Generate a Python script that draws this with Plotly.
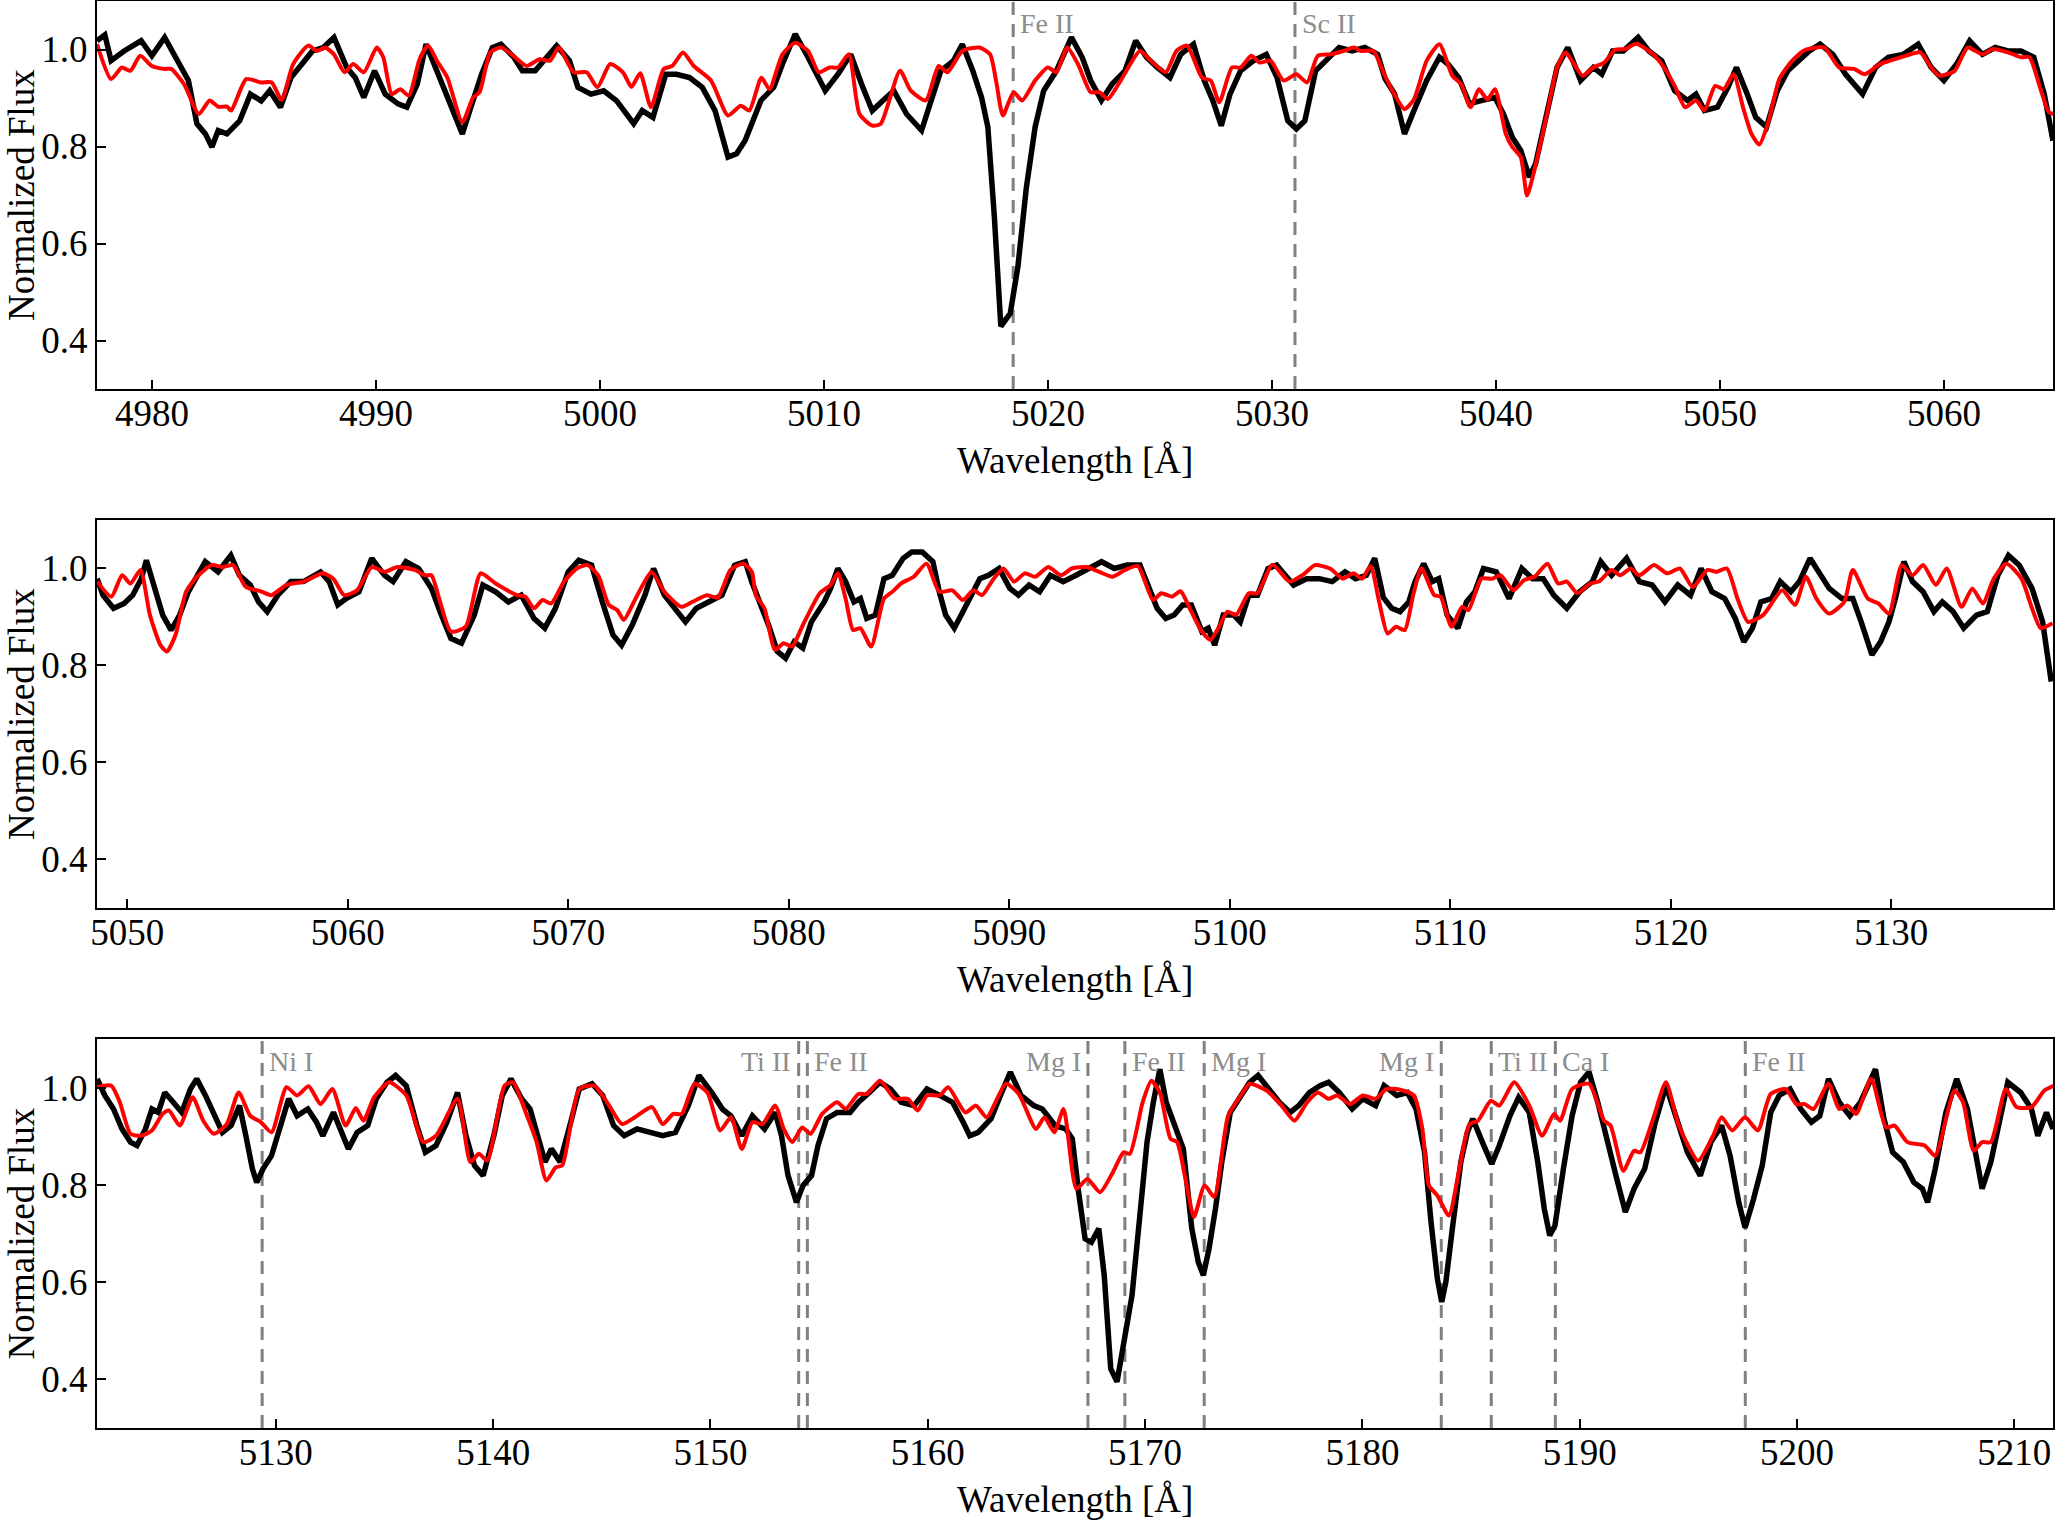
import plotly.graph_objects as go

# ---- panel 1 : 4977 - 5065 A ----
wave_obs_1 = [4977.55, 4977.90, 4978.18, 4978.76, 4979.52, 4980.00, 4980.57, 4981.24, 4981.63, 4982.01,
              4982.39, 4982.68, 4982.96, 4983.35, 4983.92, 4984.40, 4984.88, 4985.26, 4985.74, 4986.21,
              4986.79, 4987.17, 4987.65, 4988.13, 4988.70, 4989.08, 4989.46, 4989.94, 4990.42, 4990.99,
              4991.38, 4991.85, 4992.24, 4992.72, 4993.29, 4993.86, 4994.24, 4994.72, 4995.20, 4995.58,
              4996.16, 4996.54, 4997.11, 4997.50, 4998.07, 4998.64, 4999.02, 4999.60, 5000.17, 5000.75,
              5001.51, 5001.89, 5002.37, 5002.94, 5003.42, 5004.00, 5004.57, 5005.14, 5005.72, 5006.10,
              5006.48, 5007.19, 5007.76, 5008.15, 5008.72, 5009.29, 5010.06, 5010.63, 5011.20, 5011.68,
              5012.16, 5012.64, 5013.12, 5013.69, 5014.36, 5014.74, 5015.22, 5015.79, 5016.18, 5016.65,
              5017.04, 5017.32, 5017.61, 5017.90, 5018.13, 5018.32, 5018.66, 5019.04, 5019.43, 5019.81,
              5020.38, 5021.05, 5021.53, 5021.91, 5022.39, 5022.87, 5023.44, 5023.92, 5024.40, 5024.88,
              5025.45, 5025.93, 5026.50, 5026.98, 5027.36, 5027.74, 5028.13, 5028.60, 5029.18, 5029.75,
              5030.23, 5030.71, 5031.09, 5031.47, 5031.95, 5032.52, 5033.00, 5033.58, 5034.15, 5034.72,
              5035.05, 5035.48, 5035.92, 5036.34, 5036.91, 5037.48, 5037.86, 5038.34, 5038.82, 5039.39,
              5039.96, 5040.34, 5040.73, 5041.11, 5041.49, 5041.77, 5042.25, 5042.73, 5043.21, 5043.78,
              5044.35, 5044.73, 5045.21, 5045.69, 5046.35, 5046.83, 5047.40, 5047.98, 5048.55, 5048.93,
              5049.31, 5049.89, 5050.36, 5050.74, 5051.22, 5051.60, 5052.08, 5052.56, 5053.03, 5053.51,
              5053.99, 5054.47, 5055.04, 5055.61, 5055.99, 5056.37, 5056.95, 5057.52, 5058.19, 5058.85,
              5059.43, 5060.00, 5060.57, 5061.15, 5061.72, 5062.29, 5062.86, 5063.44, 5064.01, 5064.48,
              5064.87]
flux_obs_1 = [1.018, 1.030, 0.977, 0.997, 1.018, 0.987, 1.025, 0.970, 0.936, 0.847,
              0.826, 0.799, 0.833, 0.826, 0.853, 0.908, 0.894, 0.915, 0.881, 0.942,
              0.977, 0.997, 1.004, 1.025, 0.963, 0.942, 0.901, 0.956, 0.908, 0.888,
              0.881, 0.929, 1.011, 0.956, 0.894, 0.826, 0.881, 0.949, 1.004, 1.011,
              0.984, 0.956, 0.956, 0.977, 1.008, 0.977, 0.922, 0.908, 0.915, 0.894,
              0.847, 0.874, 0.860, 0.949, 0.949, 0.942, 0.922, 0.874, 0.778, 0.785,
              0.812, 0.895, 0.922, 0.970, 1.032, 0.984, 0.915, 0.949, 0.990, 0.929,
              0.874, 0.895, 0.915, 0.867, 0.833, 0.888, 0.956, 0.977, 1.011, 0.956,
              0.901, 0.840, 0.655, 0.429, 0.443, 0.456, 0.552, 0.716, 0.840, 0.915,
              0.956, 1.025, 0.984, 0.936, 0.895, 0.929, 0.956, 1.018, 0.984, 0.963,
              0.942, 0.990, 1.011, 0.936, 0.895, 0.843, 0.908, 0.956, 0.977, 0.990,
              0.942, 0.853, 0.836, 0.853, 0.956, 0.984, 1.004, 0.997, 1.004, 0.990,
              0.940, 0.908, 0.826, 0.874, 0.936, 0.984, 0.970, 0.942, 0.888, 0.895,
              0.901, 0.867, 0.819, 0.792, 0.737, 0.764, 0.867, 0.963, 1.004, 0.936,
              0.963, 0.949, 0.997, 0.997, 1.025, 0.997, 0.977, 0.915, 0.895, 0.908,
              0.874, 0.881, 0.922, 0.963, 0.908, 0.860, 0.840, 0.915, 0.956, 0.977,
              0.997, 1.011, 0.990, 0.949, 0.929, 0.908, 0.963, 0.984, 0.990, 1.011,
              0.963, 0.936, 0.970, 1.018, 0.990, 1.004, 0.997, 0.997, 0.984, 0.908,
              0.812]
wave_mod_1 = [4977.55, 4978.18, 4978.66, 4979.04, 4979.48, 4980.00, 4980.57, 4980.86, 4981.43, 4982.10,
              4982.58, 4982.96, 4983.35, 4983.54, 4984.21, 4984.88, 4985.35, 4985.79, 4986.31, 4986.98,
              4987.36, 4987.74, 4988.13, 4988.60, 4988.99, 4989.46, 4990.04, 4990.33, 4990.71, 4991.09,
              4991.47, 4991.95, 4992.33, 4992.72, 4993.19, 4993.86, 4994.34, 4994.63, 4995.11, 4995.58,
              4996.06, 4996.73, 4997.30, 4997.78, 4998.16, 4998.83, 4999.41, 4999.89, 5000.46, 5001.03,
              5001.41, 5001.80, 5002.28, 5002.85, 5003.23, 5003.71, 5004.19, 5004.96, 5005.72, 5006.29,
              5006.67, 5007.21, 5007.57, 5008.15, 5008.72, 5009.29, 5009.77, 5010.25, 5010.63, 5011.11,
              5011.59, 5012.16, 5012.54, 5013.40, 5013.88, 5014.55, 5015.12, 5015.51, 5016.18, 5016.94,
              5017.42, 5017.71, 5017.99, 5018.47, 5018.85, 5019.43, 5020.00, 5020.38, 5020.86, 5021.34,
              5021.91, 5022.29, 5022.68, 5023.25, 5024.11, 5024.59, 5025.26, 5025.74, 5026.21, 5026.88,
              5027.27, 5027.65, 5028.22, 5028.60, 5029.08, 5029.46, 5029.94, 5030.52, 5031.09, 5031.57,
              5032.05, 5032.62, 5033.19, 5033.67, 5033.96, 5034.53, 5035.01, 5035.38, 5035.92, 5036.34,
              5036.91, 5037.48, 5038.05, 5038.44, 5038.87, 5039.24, 5039.62, 5039.96, 5040.44, 5040.73,
              5041.11, 5041.39, 5041.68, 5042.25, 5042.73, 5043.11, 5043.49, 5043.87, 5044.35, 5044.83,
              5045.31, 5045.78, 5046.26, 5047.02, 5047.50, 5047.98, 5048.45, 5048.93, 5049.31, 5049.79,
              5050.17, 5050.61, 5051.03, 5051.41, 5051.76, 5052.18, 5052.65, 5053.23, 5053.80, 5054.66,
              5055.32, 5055.99, 5056.47, 5057.14, 5057.61, 5058.28, 5058.95, 5059.43, 5059.81, 5060.48,
              5061.05, 5061.72, 5062.19, 5062.86, 5063.44, 5063.82, 5064.29, 5064.68, 5064.92]
flux_mod_1 = [1.011, 0.939, 0.963, 0.956, 0.987, 0.966, 0.960, 0.960, 0.929, 0.867,
              0.895, 0.882, 0.882, 0.874, 0.939, 0.932, 0.932, 0.896, 0.970, 1.008,
              0.997, 1.004, 0.990, 0.953, 0.970, 0.953, 1.004, 0.984, 0.908, 0.918,
              0.905, 0.980, 1.008, 0.977, 0.942, 0.850, 0.901, 0.912, 0.994, 1.004,
              0.990, 0.966, 0.980, 0.977, 1.004, 0.953, 0.953, 0.922, 0.970, 0.953,
              0.923, 0.951, 0.881, 0.960, 0.966, 0.994, 0.966, 0.936, 0.864, 0.884,
              0.874, 0.942, 0.918, 0.990, 1.014, 0.997, 0.953, 0.963, 0.963, 0.990,
              0.867, 0.843, 0.847, 0.956, 0.915, 0.895, 0.966, 0.953, 0.997, 1.004,
              0.990, 0.929, 0.864, 0.912, 0.895, 0.936, 0.963, 0.953, 1.004, 0.970,
              0.912, 0.912, 0.898, 0.936, 0.997, 0.977, 0.953, 0.997, 1.008, 0.942,
              0.936, 0.891, 0.963, 0.963, 0.987, 0.973, 0.977, 0.936, 0.949, 0.932,
              0.987, 0.990, 0.997, 1.004, 0.997, 0.997, 0.949, 0.915, 0.877, 0.897,
              0.977, 1.011, 0.946, 0.929, 0.881, 0.918, 0.897, 0.918, 0.826, 0.799,
              0.778, 0.699, 0.744, 0.860, 0.963, 0.994, 0.970, 0.946, 0.963, 0.973,
              0.999, 1.001, 1.012, 0.990, 0.963, 0.925, 0.881, 0.895, 0.874, 0.925,
              0.918, 0.949, 0.881, 0.826, 0.804, 0.853, 0.939, 0.977, 0.999, 1.004,
              0.963, 0.960, 0.949, 0.970, 0.977, 0.987, 0.994, 0.963, 0.946, 0.956,
              1.004, 0.990, 1.001, 0.994, 0.984, 0.984, 0.922, 0.871, 0.867]

# ---- panel 2 : 5048 - 5137 A ----
wave_obs_2 = [5048.64, 5048.90, 5049.38, 5049.86, 5050.25, 5050.64, 5050.87, 5051.22, 5051.61, 5051.99,
              5052.38, 5052.77, 5053.16, 5053.54, 5054.12, 5054.70, 5055.09, 5055.58, 5055.96, 5056.35,
              5056.83, 5057.42, 5058.00, 5058.77, 5059.16, 5059.55, 5059.93, 5060.51, 5061.09, 5061.67,
              5062.06, 5062.64, 5063.22, 5063.80, 5064.19, 5064.68, 5065.16, 5065.74, 5066.13, 5066.71,
              5067.29, 5067.87, 5068.45, 5068.94, 5069.42, 5070.00, 5070.48, 5071.06, 5071.55, 5072.03,
              5072.42, 5072.90, 5073.48, 5073.87, 5074.36, 5074.84, 5075.32, 5075.81, 5076.39, 5076.97,
              5077.55, 5078.03, 5078.32, 5078.70, 5079.09, 5079.48, 5079.86, 5080.25, 5080.64, 5081.03,
              5081.61, 5081.90, 5082.23, 5082.58, 5082.96, 5083.25, 5083.54, 5083.93, 5084.32, 5084.70,
              5085.19, 5085.58, 5086.06, 5086.54, 5086.83, 5087.12, 5087.51, 5087.90, 5088.29, 5088.67,
              5089.06, 5089.54, 5090.03, 5090.42, 5090.90, 5091.38, 5091.87, 5092.45, 5093.03, 5093.61,
              5094.19, 5094.77, 5095.35, 5095.93, 5096.32, 5096.71, 5097.10, 5097.48, 5097.87, 5098.26,
              5098.74, 5099.03, 5099.32, 5099.71, 5100.19, 5100.48, 5100.87, 5101.26, 5101.74, 5102.13,
              5102.52, 5102.90, 5103.49, 5104.07, 5104.65, 5105.23, 5105.71, 5106.20, 5106.58, 5106.97,
              5107.35, 5107.73, 5108.12, 5108.41, 5108.80, 5109.19, 5109.48, 5109.86, 5110.35, 5110.74,
              5111.12, 5111.51, 5112.09, 5112.67, 5113.25, 5113.74, 5114.22, 5114.70, 5115.29, 5115.87,
              5116.45, 5116.83, 5117.32, 5118.00, 5118.58, 5119.16, 5119.74, 5120.32, 5120.90, 5121.38,
              5121.87, 5122.45, 5122.93, 5123.32, 5123.71, 5124.09, 5124.58, 5124.97, 5125.45, 5125.84,
              5126.32, 5126.71, 5127.19, 5127.77, 5128.26, 5128.64, 5129.13, 5129.52, 5129.90, 5130.19,
              5130.58, 5130.97, 5131.45, 5131.94, 5132.32, 5132.81, 5133.29, 5133.87, 5134.36, 5134.84,
              5135.32, 5135.81, 5136.39, 5136.87, 5137.26]
flux_obs_2 = [0.979, 0.945, 0.918, 0.928, 0.945, 0.979, 1.017, 0.959, 0.904, 0.873,
              0.904, 0.952, 0.986, 1.014, 0.993, 1.027, 0.986, 0.966, 0.931, 0.911,
              0.945, 0.973, 0.973, 0.993, 0.973, 0.925, 0.938, 0.952, 1.021, 0.986,
              0.973, 1.014, 1.000, 0.959, 0.911, 0.856, 0.846, 0.904, 0.966, 0.952,
              0.931, 0.945, 0.897, 0.877, 0.918, 0.993, 1.017, 1.007, 0.931, 0.863,
              0.842, 0.883, 0.945, 1.000, 0.945, 0.918, 0.890, 0.918, 0.931, 0.945,
              1.007, 1.014, 0.973, 0.931, 0.883, 0.829, 0.815, 0.849, 0.836, 0.890,
              0.931, 0.959, 1.000, 0.973, 0.931, 0.938, 0.897, 0.904, 0.979, 0.986,
              1.021, 1.034, 1.034, 1.014, 0.952, 0.904, 0.877, 0.911, 0.945, 0.979,
              0.986, 1.000, 0.959, 0.945, 0.966, 0.952, 0.986, 0.973, 0.986, 1.000,
              1.014, 1.000, 1.007, 1.007, 0.959, 0.918, 0.897, 0.904, 0.925, 0.925,
              0.870, 0.877, 0.842, 0.904, 0.904, 0.890, 0.945, 0.945, 1.000, 1.007,
              0.986, 0.966, 0.979, 0.979, 0.973, 0.993, 0.979, 0.986, 1.021, 0.940,
              0.918, 0.911, 0.931, 0.973, 1.010, 0.973, 0.979, 0.904, 0.877, 0.931,
              0.952, 1.000, 0.993, 0.938, 1.000, 0.979, 0.979, 0.945, 0.918, 0.952,
              0.973, 1.014, 0.986, 1.021, 0.973, 0.966, 0.931, 0.966, 0.945, 1.000,
              0.952, 0.938, 0.897, 0.849, 0.877, 0.931, 0.938, 0.973, 0.952, 0.973,
              1.021, 0.993, 0.959, 0.938, 0.938, 0.890, 0.822, 0.849, 0.890, 0.938,
              1.014, 0.973, 0.952, 0.911, 0.931, 0.911, 0.877, 0.904, 0.911, 0.986,
              1.027, 1.007, 0.959, 0.890, 0.767]
wave_mod_2 = [5048.64, 5049.28, 5049.77, 5050.15, 5050.60, 5051.03, 5051.51, 5051.80, 5052.19, 5052.67,
              5053.16, 5053.83, 5054.32, 5054.80, 5055.38, 5056.06, 5056.54, 5057.22, 5058.00, 5058.87,
              5059.35, 5059.84, 5060.42, 5061.09, 5061.67, 5062.26, 5063.03, 5063.51, 5063.80, 5064.19,
              5064.68, 5065.35, 5066.03, 5066.71, 5067.68, 5068.06, 5068.45, 5068.84, 5069.23, 5069.81,
              5070.39, 5070.87, 5071.36, 5071.84, 5072.23, 5072.52, 5073.10, 5073.78, 5074.36, 5075.13,
              5075.62, 5076.29, 5076.78, 5077.36, 5077.94, 5078.33, 5078.51, 5078.90, 5079.38, 5079.77,
              5080.15, 5080.64, 5081.41, 5081.90, 5082.23, 5082.58, 5082.92, 5083.25, 5083.74, 5084.32,
              5084.70, 5085.09, 5085.67, 5086.25, 5086.83, 5087.42, 5087.90, 5088.38, 5088.77, 5089.25,
              5089.74, 5090.22, 5090.71, 5091.19, 5091.77, 5092.35, 5092.84, 5093.51, 5094.09, 5094.68,
              5095.26, 5095.84, 5096.52, 5096.90, 5097.39, 5097.77, 5098.26, 5098.74, 5099.13, 5099.52,
              5099.90, 5100.29, 5100.87, 5101.26, 5101.94, 5102.71, 5103.29, 5103.87, 5104.55, 5105.13,
              5105.61, 5106.00, 5106.39, 5106.78, 5107.16, 5107.55, 5107.94, 5108.32, 5108.70, 5109.28,
              5109.57, 5110.06, 5110.54, 5110.83, 5111.41, 5111.90, 5112.28, 5112.87, 5113.35, 5113.83,
              5114.41, 5114.90, 5115.29, 5115.77, 5116.35, 5116.74, 5117.32, 5117.71, 5118.19, 5118.58,
              5119.25, 5119.84, 5120.42, 5121.00, 5121.67, 5122.06, 5122.55, 5123.03, 5123.51, 5124.19,
              5125.06, 5125.64, 5126.13, 5126.61, 5127.19, 5127.87, 5128.26, 5128.94, 5129.42, 5129.90,
              5130.48, 5130.97, 5131.45, 5132.03, 5132.52, 5133.19, 5133.68, 5134.16, 5134.65, 5135.23,
              5135.91, 5136.39, 5136.78, 5137.32]
flux_mod_2 = [0.973, 0.942, 0.986, 0.969, 0.997, 0.904, 0.842, 0.829, 0.863, 0.952,
              0.983, 1.007, 1.003, 1.007, 0.962, 0.953, 0.945, 0.966, 0.973, 0.990,
              0.979, 0.945, 0.955, 1.003, 0.993, 1.003, 0.997, 0.986, 0.986, 0.931,
              0.870, 0.880, 0.990, 0.969, 0.945, 0.942, 0.918, 0.935, 0.928, 0.973,
              1.000, 1.007, 0.986, 0.925, 0.914, 0.894, 0.942, 0.993, 0.952, 0.921,
              0.931, 0.945, 0.940, 0.997, 1.010, 0.993, 0.945, 0.918, 0.832, 0.846,
              0.839, 0.883, 0.949, 0.966, 0.990, 0.938, 0.873, 0.877, 0.839, 0.938,
              0.952, 0.969, 0.983, 1.010, 0.952, 0.955, 0.935, 0.955, 0.945, 0.976,
              1.000, 0.973, 0.990, 0.983, 1.003, 0.986, 1.000, 1.003, 0.993, 0.983,
              0.997, 1.005, 0.935, 0.949, 0.942, 0.953, 0.911, 0.870, 0.853, 0.880,
              0.911, 0.904, 0.949, 0.949, 1.008, 0.973, 0.986, 1.007, 1.000, 0.979,
              0.990, 0.979, 1.005, 0.931, 0.866, 0.880, 0.873, 0.945, 1.000, 0.945,
              0.942, 0.880, 0.921, 0.914, 0.979, 0.979, 0.986, 0.955, 0.976, 0.983,
              1.010, 0.969, 0.973, 0.949, 0.969, 0.973, 0.997, 0.986, 1.000, 0.986,
              1.007, 0.990, 1.000, 0.962, 0.997, 0.993, 1.000, 0.938, 0.890, 0.904,
              0.955, 0.925, 0.983, 0.938, 0.907, 0.931, 0.997, 0.938, 0.928, 0.907,
              1.007, 0.986, 1.007, 0.966, 1.000, 0.921, 0.959, 0.928, 0.979, 1.010,
              0.979, 0.918, 0.877, 0.887]

# ---- panel 3 : 5122 - 5212 A ----
wave_obs_3 = [5121.78, 5122.13, 5122.53, 5122.92, 5123.31, 5123.61, 5124.00, 5124.30, 5124.59, 5124.89,
              5125.28, 5125.67, 5126.07, 5126.36, 5126.76, 5127.15, 5127.54, 5127.94, 5128.33, 5128.62,
              5128.92, 5129.12, 5129.41, 5129.80, 5130.20, 5130.59, 5130.98, 5131.47, 5131.87, 5132.16,
              5132.65, 5133.05, 5133.34, 5133.74, 5134.23, 5134.62, 5135.11, 5135.51, 5136.00, 5136.49,
              5136.88, 5137.37, 5137.87, 5138.36, 5138.75, 5139.14, 5139.54, 5140.03, 5140.42, 5140.82,
              5141.31, 5141.70, 5142.00, 5142.39, 5142.68, 5143.08, 5143.57, 5143.96, 5144.55, 5145.04,
              5145.54, 5146.03, 5146.62, 5147.21, 5147.80, 5148.39, 5148.98, 5149.47, 5150.06, 5150.55,
              5150.94, 5151.44, 5151.93, 5152.49, 5152.98, 5153.27, 5153.57, 5153.96, 5154.26, 5154.65,
              5154.95, 5155.34, 5155.83, 5156.42, 5156.81, 5157.31, 5157.80, 5158.29, 5158.78, 5159.37,
              5159.96, 5160.55, 5161.14, 5161.63, 5161.93, 5162.32, 5162.91, 5163.40, 5163.80, 5164.29,
              5164.88, 5165.27, 5165.86, 5166.35, 5166.65, 5166.94, 5167.24, 5167.53, 5167.87, 5168.12,
              5168.42, 5168.71, 5169.01, 5169.40, 5169.79, 5170.09, 5170.38, 5170.68, 5170.97, 5171.37,
              5171.76, 5172.15, 5172.45, 5172.68, 5172.94, 5173.24, 5173.53, 5173.92, 5174.32, 5174.81,
              5175.20, 5175.69, 5176.18, 5176.68, 5177.07, 5177.56, 5178.05, 5178.45, 5178.94, 5179.53,
              5180.02, 5180.61, 5181.00, 5181.58, 5182.07, 5182.47, 5182.86, 5183.16, 5183.45, 5183.65,
              5183.84, 5184.14, 5184.53, 5184.83, 5185.08, 5185.52, 5185.95, 5186.30, 5186.79, 5187.19,
              5187.68, 5188.07, 5188.37, 5188.62, 5188.86, 5189.25, 5189.65, 5190.04, 5190.43, 5190.83,
              5191.32, 5191.71, 5192.10, 5192.50, 5192.99, 5193.48, 5193.97, 5194.46, 5194.96, 5195.55,
              5196.04, 5196.53, 5196.92, 5197.32, 5197.61, 5198.00, 5198.40, 5198.79, 5199.18, 5199.68,
              5200.17, 5200.66, 5201.05, 5201.45, 5201.94, 5202.43, 5202.92, 5203.61, 5204.00, 5204.40,
              5204.89, 5205.38, 5205.77, 5206.01, 5206.36, 5206.85, 5207.35, 5207.84, 5208.23, 5208.52,
              5208.92, 5209.31, 5209.70, 5210.29, 5210.79, 5211.08, 5211.48, 5211.78]
flux_obs_3 = [1.018, 0.984, 0.956, 0.915, 0.888, 0.881, 0.915, 0.956, 0.949, 0.990,
              0.970, 0.949, 0.997, 1.018, 0.984, 0.949, 0.908, 0.922, 0.963, 0.901,
              0.833, 0.805, 0.833, 0.860, 0.922, 0.977, 0.942, 0.956, 0.929, 0.901,
              0.949, 0.908, 0.874, 0.908, 0.922, 0.977, 1.011, 1.025, 1.004, 0.922,
              0.867, 0.881, 0.929, 0.990, 0.901, 0.840, 0.819, 0.901, 0.984, 1.018,
              0.977, 0.956, 0.908, 0.847, 0.874, 0.847, 0.929, 0.997, 1.008, 0.984,
              0.922, 0.901, 0.915, 0.908, 0.901, 0.908, 0.963, 1.025, 0.990, 0.956,
              0.942, 0.901, 0.942, 0.915, 0.949, 0.901, 0.819, 0.764, 0.799, 0.819,
              0.881, 0.936, 0.949, 0.949, 0.970, 0.990, 1.011, 0.997, 0.970, 0.963,
              0.997, 0.984, 0.970, 0.929, 0.901, 0.908, 0.936, 0.990, 1.032, 0.984,
              0.963, 0.956, 0.922, 0.915, 0.895, 0.785, 0.689, 0.682, 0.710, 0.614,
              0.422, 0.395, 0.477, 0.573, 0.751, 0.888, 0.970, 1.038, 0.970, 0.922,
              0.874, 0.710, 0.641, 0.614, 0.668, 0.751, 0.847, 0.949, 0.977, 1.011,
              1.025, 0.997, 0.970, 0.949, 0.963, 0.990, 1.004, 1.011, 0.990, 0.956,
              0.977, 0.963, 1.004, 0.984, 0.990, 0.956, 0.867, 0.723, 0.607, 0.559,
              0.600, 0.710, 0.847, 0.908, 0.936, 0.888, 0.843, 0.881, 0.942, 0.980,
              0.949, 0.847, 0.751, 0.696, 0.716, 0.833, 0.942, 1.011, 1.032, 0.970,
              0.888, 0.812, 0.744, 0.792, 0.833, 0.929, 1.004, 0.936, 0.867, 0.819,
              0.888, 0.922, 0.860, 0.764, 0.712, 0.771, 0.840, 0.949, 0.984, 0.997,
              0.956, 0.929, 0.942, 1.018, 0.970, 0.942, 0.970, 1.038, 0.936, 0.867,
              0.847, 0.805, 0.792, 0.764, 0.833, 0.949, 1.018, 0.956, 0.867, 0.792,
              0.847, 0.929, 1.011, 0.990, 0.956, 0.901, 0.949, 0.915]
wave_mod_3 = [5121.78, 5122.43, 5122.82, 5123.31, 5123.81, 5124.30, 5124.79, 5125.08, 5125.58, 5126.17,
              5126.66, 5127.15, 5127.74, 5128.29, 5128.82, 5129.31, 5129.80, 5130.49, 5130.98, 5131.51,
              5132.06, 5132.60, 5133.21, 5133.68, 5134.03, 5134.52, 5135.21, 5136.00, 5136.78, 5137.37,
              5138.36, 5138.95, 5139.34, 5139.73, 5140.52, 5140.91, 5141.50, 5142.00, 5142.45, 5142.88,
              5143.18, 5143.96, 5144.65, 5145.24, 5145.93, 5146.52, 5147.31, 5147.80, 5148.29, 5148.68,
              5149.27, 5149.86, 5150.45, 5150.94, 5151.44, 5151.93, 5152.39, 5152.98, 5153.37, 5153.77,
              5154.22, 5154.61, 5155.14, 5155.83, 5156.22, 5156.81, 5157.21, 5157.80, 5158.49, 5159.08,
              5159.53, 5159.96, 5160.55, 5160.94, 5161.73, 5162.22, 5162.71, 5163.60, 5164.19, 5164.98,
              5165.37, 5165.82, 5166.25, 5166.84, 5167.34, 5167.93, 5168.52, 5169.01, 5169.30, 5169.89,
              5170.29, 5170.68, 5171.17, 5171.47, 5171.86, 5172.25, 5172.74, 5173.18, 5173.82, 5174.41,
              5174.81, 5175.59, 5176.28, 5176.87, 5177.46, 5177.95, 5178.45, 5178.84, 5179.43, 5180.02,
              5180.61, 5181.10, 5181.69, 5182.37, 5182.76, 5183.06, 5183.45, 5183.98, 5184.43, 5184.93,
              5185.32, 5185.91, 5186.30, 5186.99, 5187.68, 5188.27, 5188.82, 5189.10, 5189.65, 5190.43,
              5191.12, 5191.42, 5192.01, 5192.50, 5192.79, 5193.38, 5193.97, 5194.56, 5195.45, 5196.14,
              5196.53, 5197.02, 5197.61, 5198.20, 5198.79, 5199.48, 5199.97, 5200.36, 5200.76, 5201.45,
              5201.94, 5202.33, 5202.72, 5203.41, 5204.10, 5204.49, 5205.08, 5205.87, 5206.36, 5207.25,
              5207.64, 5208.13, 5208.52, 5208.92, 5209.61, 5210.10, 5210.79, 5211.38, 5211.83]
flux_mod_3 = [1.001, 1.004, 0.970, 0.905, 0.901, 0.912, 0.946, 0.953, 0.922, 0.980,
              0.932, 0.905, 0.925, 0.990, 0.942, 0.929, 0.908, 1.001, 0.984, 1.003,
              0.966, 0.997, 0.922, 0.958, 0.932, 0.980, 1.011, 0.984, 0.888, 0.901,
              0.977, 0.847, 0.864, 0.850, 1.004, 1.011, 0.949, 0.888, 0.809, 0.836,
              0.840, 0.997, 1.004, 0.970, 0.925, 0.939, 0.960, 0.925, 0.946, 0.946,
              1.008, 0.990, 0.912, 0.939, 0.874, 0.929, 0.925, 0.963, 0.915, 0.888,
              0.918, 0.905, 0.946, 0.970, 0.956, 0.987, 0.987, 1.014, 0.977, 0.977,
              0.953, 0.984, 0.984, 1.001, 0.949, 0.963, 0.939, 1.008, 0.987, 0.915,
              0.939, 0.908, 0.956, 0.792, 0.812, 0.785, 0.826, 0.867, 0.864, 0.970,
              1.014, 0.990, 0.895, 0.888, 0.812, 0.734, 0.799, 0.775, 0.942, 0.984,
              1.008, 0.994, 0.963, 0.932, 0.970, 0.990, 0.977, 0.984, 0.966, 0.984,
              0.977, 0.997, 0.996, 0.984, 0.915, 0.799, 0.778, 0.737, 0.826, 0.925,
              0.932, 0.973, 0.963, 1.011, 0.963, 0.901, 0.946, 0.932, 0.997, 1.008,
              0.932, 0.922, 0.829, 0.870, 0.867, 0.936, 1.011, 0.922, 0.850, 0.901,
              0.939, 0.912, 0.939, 0.912, 0.987, 0.997, 0.966, 0.966, 0.956, 1.008,
              0.956, 0.963, 0.946, 1.018, 0.918, 0.922, 0.888, 0.881, 0.860, 0.994,
              0.970, 0.870, 0.888, 0.888, 0.997, 0.960, 0.960, 0.994, 1.004]

# marked lines: (label, wavelength, side of the label)
lines_1 = [("Fe II", 5018.45, "right"), ("Sc II", 5031.03, "right")]
lines_2 = []
lines_3 = [("Ni I", 5129.37, "right"), ("Ti II", 5154.06, "left"), ("Fe II", 5154.46, "right"),
           ("Mg I", 5167.37, "left"), ("Fe II", 5169.07, "right"), ("Mg I", 5172.72, "right"),
           ("Mg I", 5183.63, "left"), ("Ti II", 5185.93, "right"), ("Ca I", 5188.88, "right"),
           ("Fe II", 5197.62, "right")]

x_ranges = [[4977.55, 5064.87], [5048.63, 5137.34], [5121.77, 5211.78]]
y_domains = [[0.7281, 1.0], [0.3644, 0.6363], [0.0, 0.2726]]

panels = [(wave_obs_1, flux_obs_1, wave_mod_1, flux_mod_1, lines_1),
          (wave_obs_2, flux_obs_2, wave_mod_2, flux_mod_2, lines_2),
          (wave_obs_3, flux_obs_3, wave_mod_3, flux_mod_3, lines_3)]

FONT = "Liberation Serif"
fig = go.Figure()
shapes = []
annotations = []

for i, (wo, fo, wm, fm, lines) in enumerate(panels):
    n = "" if i == 0 else str(i + 1)
    xa, ya = "x" + n, "y" + n
    fig.add_trace(go.Scatter(x=wo, y=fo, mode="lines", xaxis=xa, yaxis=ya,
                             line=dict(color="black", width=5.5), showlegend=False))
    fig.add_trace(go.Scatter(x=wm, y=fm, mode="lines", xaxis=xa, yaxis=ya,
                             line=dict(color="#ff0000", width=4, shape="spline", smoothing=0.6),
                             showlegend=False))
    for name, wl, side in lines:
        shapes.append(dict(type="line", xref=xa, yref=ya + " domain", x0=wl, x1=wl, y0=0, y1=1,
                           line=dict(color="gray", width=3, dash="13px,9px"), layer="below"))
        if side == "right":
            annotations.append(dict(x=wl + 0.22, y=1.053, xref=xa, yref=ya, text=name,
                                    xanchor="left", yanchor="middle", showarrow=False,
                                    font=dict(family=FONT, size=28, color="#8c8c8c")))
        else:
            annotations.append(dict(x=wl - 0.25, y=1.053, xref=xa, yref=ya, text=name,
                                    xanchor="right", yanchor="middle", showarrow=False,
                                    font=dict(family=FONT, size=28, color="#8c8c8c")))

    # axis titles
    annotations.append(dict(x=0, y=sum(y_domains[i]) / 2, xref="paper", yref="paper",
                            text="Normalized Flux", textangle=-90, xshift=-76,
                            xanchor="center", yanchor="middle", showarrow=False,
                            font=dict(family=FONT, size=37, color="black")))
    annotations.append(dict(x=0.5, y=y_domains[i][0], xref="paper", yref="paper",
                            text="Wavelength [Å]", yshift=-71,
                            xanchor="center", yanchor="middle", showarrow=False,
                            font=dict(family=FONT, size=37, color="black")))

    fig.update_layout({
        "xaxis" + n: dict(range=x_ranges[i], dtick=10, ticks="inside", ticklen=9, tickwidth=2,
                          tickcolor="black", showline=True, linecolor="black", linewidth=2,
                          mirror=True, showgrid=False, zeroline=False, anchor=ya,
                          ticklabelstandoff=-9, automargin=False,
                          tickfont=dict(family=FONT, size=37, color="black")),
        "yaxis" + n: dict(range=[0.3, 1.1], domain=y_domains[i], tickvals=[0.4, 0.6, 0.8, 1.0],
                          tickformat=".1f", ticks="inside", ticklen=9, tickwidth=2,
                          tickcolor="black", showline=True, linecolor="black", linewidth=2,
                          mirror=True, showgrid=False, zeroline=False, anchor=xa,
                          automargin=False,
                          tickfont=dict(family=FONT, size=37, color="black")),
    })

fig.update_layout(width=2055, height=1520, margin=dict(l=97, r=2, t=1, b=92),
                  plot_bgcolor="white", paper_bgcolor="white",
                  shapes=shapes, annotations=annotations, showlegend=False)

# drop the browser's default page margin so the figure sits at the window's corner
fig.write_html("out.html", config={"displayModeBar": False},
               post_script="document.body.style.margin='0';document.body.style.overflow='hidden';")
